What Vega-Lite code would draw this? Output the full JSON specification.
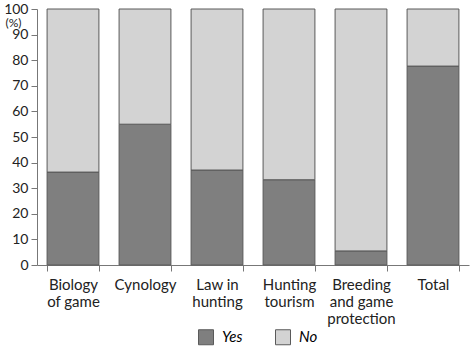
{
  "$schema": "https://vega.github.io/schema/vega-lite/v6.json",
  "width": 432,
  "height": 256,
  "autosize": {"type": "none"},
  "padding": {"left": 37, "top": 9, "right": 5, "bottom": 92},
  "background": "white",
  "config": {
    "view": {"stroke": null},
    "font": "Lato",
    "axis": {"labelFont": "Lato", "titleFont": "Lato", "labelColor": "#222", "domainColor": "#777", "tickColor": "#777", "grid": false},
    "legend": {"labelFont": "Lato"}
  },
  "data": {
    "values": [
      {"topic": "Biology|of game", "answer": "Yes", "pct": 36.3},
      {"topic": "Biology|of game", "answer": "No", "pct": 63.7},
      {"topic": "Cynology", "answer": "Yes", "pct": 55.0},
      {"topic": "Cynology", "answer": "No", "pct": 45.0},
      {"topic": "Law in|hunting", "answer": "Yes", "pct": 37.1},
      {"topic": "Law in|hunting", "answer": "No", "pct": 62.9},
      {"topic": "Hunting|tourism", "answer": "Yes", "pct": 33.3},
      {"topic": "Hunting|tourism", "answer": "No", "pct": 66.7},
      {"topic": "Breeding|and game|protection", "answer": "Yes", "pct": 5.5},
      {"topic": "Breeding|and game|protection", "answer": "No", "pct": 94.5},
      {"topic": "Total", "answer": "Yes", "pct": 77.7},
      {"topic": "Total", "answer": "No", "pct": 22.3}
    ]
  },
  "mark": {"type": "bar", "stroke": "#5a5a5a", "strokeWidth": 1},
  "encoding": {
    "x": {
      "field": "topic", "type": "nominal", "sort": null,
      "scale": {"paddingInner": 0.28, "paddingOuter": 0.14},
      "axis": {"title": null, "labelAngle": 0, "labelExpr": "split(datum.label, '|')", "labelFontSize": 15, "labelLineHeight": 17, "tickBand": "extent", "tickSize": 6, "labelPadding": 6, "labelBaseline": "top"}
    },
    "y": {
      "field": "pct", "type": "quantitative", "stack": "zero",
      "scale": {"domain": [0, 100], "nice": false},
      "axis": {"values": [0,10,20,30,40,50,60,70,80,90,100], "title": "(%)", "titleAngle": 0, "titleX": -32, "titleY": 8, "titleAlign": "left", "titleBaseline": "top", "titleFontSize": 12, "titleFontWeight": "normal", "titleColor": "#222", "labelFontSize": 14, "tickSize": 6, "labelPadding": 3}
    },
    "color": {
      "field": "answer", "type": "nominal", "sort": ["Yes", "No"],
      "scale": {"domain": ["Yes", "No"], "range": ["#7f7f7f", "#d3d3d3"]},
      "legend": {"title": null, "orient": "none", "legendX": 161, "legendY": 320, "direction": "horizontal", "symbolType": "square", "symbolSize": 225, "symbolStrokeColor": "#5a5a5a", "symbolStrokeWidth": 1, "labelFontStyle": "italic", "labelFontSize": 15, "columnPadding": 30, "labelOffset": 8}
    },
    "order": {"field": "answer", "sort": "descending"}
  }
}
